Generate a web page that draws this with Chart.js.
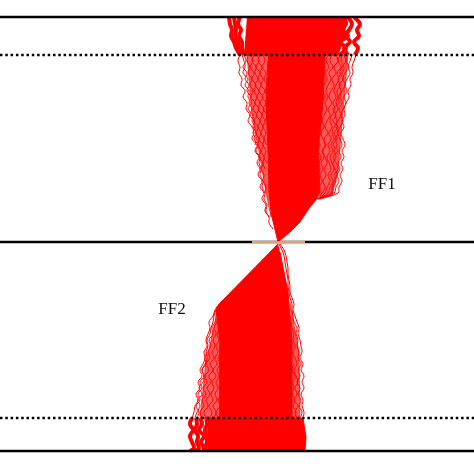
<!DOCTYPE html>
<html lang="en">
<head>
<meta charset="UTF-8">
<title>FF1 / FF2 trajectories</title>
<style>
  html, body { margin: 0; padding: 0; background: #fff; }
  canvas { display: block; }
</style>
<script src="https://cdn.jsdelivr.net/npm/chart.js"></script>
</head>
<body>
<canvas id="fan" width="474" height="474"></canvas>
<script>
// x = sideways offset from the orifice, h = height above the interface line
const xMin = -278, xMax = 196, hMin = -232, hMax = 242;

const solidLevels = [225, 0, -209];
const dottedLevels = [187, -176];
const orificeX = [-26, 27];

// labels
const labelText = ['FF1', 'FF2'];
const labelX = [104, -106];
const labelH = [57, -68];

// solid bodies of each fan, outline as x / h pairs
const ff1CoreX = [-10, -12, -10, -9, -6, 0, 12, 22, 32, 38, 42, 40, 45, 47];
const ff1CoreH = [187, 140, 92, 50, 25, 0, 10, 20, 35, 42, 50, 92, 140, 187];
const ff1TopX = [-31, 69, 66, 60, -34];
const ff1TopH = [225, 225, 205, 187, 187];
const ff2CoreX = [0, -58, -62, -58, -58, 14, 14, 10, 2];
const ff2CoreH = [-2, -61, -68, -100, -176, -176, -100, -50, -10];
const ff2BottomX = [-70, -70, 27, 28, 25];
const ff2BottomH = [-176, -209, -209, -195, -176];

// thinner, pink-red zones where single trajectories overlap
const ff1HazeLeftX = [-11, -31, -26, -18, -12, -7, -9];
const ff1HazeLeftH = [187, 187, 130, 85, 50, 25, 92];
const ff1HazeRightX = [46, 70, 64, 60, 54, 42, 40];
const ff1HazeRightH = [187, 187, 120, 70, 47, 44, 92];
const ff2HazeLeftX = [-57, -78, -72, -64, -58];
const ff2HazeLeftH = [-176, -176, -120, -85, -66];
const ff2HazeRightX = [13, 22, 21, 14, 12];
const ff2HazeRightH = [-176, -176, -110, -72, -60];

// single trajectories above the dotted line (FF1), read at these heights
const ff1Levels = [187, 181, 175, 169, 163, 157, 151, 145, 139, 133, 127, 121, 115, 109, 103, 97, 91, 85, 79, 73, 67, 61, 55, 49, 43, 37, 31, 25, 19, 13];
const ff1Left1 = [-38, -40, -38, -39, -36, -37, -33, -35, -31, -32, -28, -30, -26, -24, -26, -21, -23, -19, -21, -18, -20, -16, -18, -14, -16, -12, -13, -9, -9, -5];
const ff1Left2 = [-34, -32, -35, -31, -33, -29, -31, -27, -29, -26, -28, -24, -25, -22, -24, -20, -22, -18, -19, -17, -18, -15, -16, -13, -14, -11, -12, -9];
const ff1Left3 = [-30, -31, -28, -30, -26, -28, -25, -27, -23, -25, -21, -24, -20, -22, -19, -20, -17, -19, -15, -17, -14, -15, -12, -13];
const ff1Left4 = [-27, -25, -28, -24, -26, -22, -24, -21, -23, -19, -22, -18, -20, -17, -19, -15, -17, -14, -15, -13];
const ff1Left5 = [-24, -26, -22, -23, -20, -23, -19, -21, -18, -20, -16, -18, -15, -17, -14, -15, -12, -14, -11];
const ff1Left6 = [-21, -19, -22, -18, -20, -17, -19, -15, -18, -14, -16, -13, -15, -12, -14, -11];
const ff1Left7 = [-18, -20, -16, -18, -15, -17, -13, -16, -12, -15, -11, -13];
const ff1Left8 = [-15, -13, -16, -12, -14, -11, -13, -10];
const ff1Left9 = [-36, -34, -33, -35, -30, -33, -29, -30, -27, -30, -25, -26, -23, -25, -22, -23];
const ff1Right1 = [78, 76, 74, 75, 72, 73, 70, 71, 68, 66, 67, 64, 66, 63, 65, 67, 64, 66, 63, 65, 62, 64, 61, 60, 42];
const ff1Right2 = [74, 72, 70, 72, 69, 67, 69, 66, 68, 65, 63, 65, 62, 60, 62, 64, 61, 63, 60, 62, 59, 61, 58, 56, 41];
const ff1Right3 = [70, 68, 71, 67, 65, 67, 64, 62, 64, 61, 63, 60, 58, 60, 57, 59, 56, 58, 55, 57, 59, 56, 54, 53, 41];
const ff1Right4 = [66, 68, 64, 62, 65, 61, 63, 60, 58, 60, 57, 59, 56, 54, 56, 53, 55, 52, 54, 56, 53, 55, 52, 50, 40];
const ff1Right5 = [62, 60, 63, 59, 61, 58, 56, 58, 55, 57, 54, 52, 54, 51, 53, 50, 52, 49, 51, 53, 50, 52, 49, 47, 40];
const ff1Right6 = [58, 60, 56, 58, 54, 56, 53, 51, 54, 50, 52, 49, 47, 50, 46, 48, 45, 47, 49, 46, 48, 45, 47, 44, 39];
const ff1Right7 = [54, 52, 55, 51, 53, 50, 48, 50, 47, 49, 46, 44, 46, 43, 45, 47, 44, 46, 43, 45, 42, 44, 41, 40];
const ff1Right8 = [50, 48, 51, 47, 49, 46, 44, 47, 43, 45, 42, 44, 41, 43, 40, 42, 40, 43, 41, 42, 40, 41, 39, 40];
const ff1Right9 = [64, 63, 66, 64, 60, 62, 59, 60, 61, 55, 58, 55, 60, 56, 59, 55, 60, 55, 58, 60, 56, 58, 55, 54, 40];

// thick clumps between the top line and the dotted line
const topLevels = [225, 218, 212, 206, 200, 194, 187];
const topLeft1 = [-49, -48, -46, -47, -44, -42, -38];
const topLeft2 = [-38, -40, -37, -39, -36, -36, -34];
const topLeft3 = [-44, -43, -42, -43, -40, -39, -36];
const topRight1 = [76, 82, 79, 81, 76, 80, 77];
const topRight2 = [70, 74, 71, 68, 72, 66, 70];
const topRight3 = [66, 68, 64, 70, 62, 68, 62];

// FF2 left side, read upward from the dotted line
const ff2LeftLevels = [-176, -170, -164, -158, -152, -146, -140, -134, -128, -122, -116, -110, -104, -98, -92, -86, -80, -74, -68, -62];
const ff2Left1 = [-86, -84, -83, -80, -82, -78, -80, -76, -78, -75, -73, -74, -71, -72, -70, -68, -69, -65, -63, -59];
const ff2Left2 = [-81, -79, -82, -78, -80, -76, -78, -74, -76, -73, -71, -72, -70, -71, -68, -67, -65, -64, -62, -58];
const ff2Left3 = [-76, -78, -74, -76, -72, -75, -71, -73, -69, -72, -68, -70, -67, -69, -65, -66, -63, -62, -61, -57];
const ff2Left4 = [-72, -74, -70, -72, -68, -71, -67, -69, -65, -68, -64, -66, -63, -65, -62, -64, -61, -60, -59, -56];
const ff2Left5 = [-68, -66, -69, -65, -67, -64, -66, -62, -65, -61, -63, -60, -62, -59, -61, -58];
const ff2Left6 = [-64, -62, -65, -61, -63, -60, -62, -59, -61, -58, -60, -57];
const ff2Left7 = [-60, -62, -58, -60, -57, -59, -56];
const ff2Left8 = [-83, -81, -78, -80, -76, -79, -75, -74, -76, -72, -73, -71];

// FF2 right side, from the dotted line up to the orifice
const ff2RightLevels = [-176, -170, -164, -158, -152, -146, -140, -134, -128, -122, -116, -110, -104, -98, -92, -86, -80, -74, -68, -62, -56, -50, -44, -38, -32, -26, -20, -14, -8, -2];
const ff2Right1 = [25, 26, 24, 25, 23, 26, 24, 26, 23, 25, 22, 24, 23, 22, 20, 21, 19, 17, 15, 16, 14, 12, 12, 11, 10, 10, 9, 8, 6, 2];
const ff2Right2 = [22, 24, 21, 23, 20, 22, 19, 22, 20, 23, 20, 21, 19, 20, 18, 19, 16, 15, 14, 14, 12, 11, 10, 10, 9, 8, 7, 6, 4, 1];
const ff2Right3 = [19, 17, 20, 16, 19, 17, 20, 18, 16, 19, 17, 15, 17, 15, 16, 14, 13, 12];
const ff2Right4 = [16, 18, 15, 17, 14, 16, 15, 17, 14, 16];

// thick clumps between the lower dotted line and the bottom line
const bottomLevels = [-176, -182, -188, -194, -200, -206, -209];
const bottomLeft1 = [-86, -88, -85, -88, -86, -84, -88];
const bottomLeft2 = [-78, -76, -79, -74, -77, -74, -75];
const bottomLeft3 = [-72, -71, -73, -72, -71, -73, -72];
const bottomLeft4 = [-82, -81, -83, -80, -81, -79, -82];

const red = '#ff0000';

function pairs(xs, hs) {
  return xs.map((x, i) => ({ x: x, y: hs[i] }));
}

function body(xs, hs, color) {
  return { data: pairs(xs, hs), showLine: true, fill: 'shape', backgroundColor: color || red, borderColor: color || red, borderWidth: 1, pointRadius: 0, order: 3 };
}

function trace(xs, hs, width) {
  return { data: pairs(xs, hs), showLine: true, fill: false, borderColor: red, borderWidth: width, tension: 0.4, pointRadius: 0, order: 2 };
}

function flat(x0, x1, h, color, width, dash) {
  return { data: [{ x: x0, y: h }, { x: x1, y: h }], showLine: true, fill: false, borderColor: color, borderWidth: width, borderDash: dash || [], pointRadius: 0, order: 1 };
}

const haze = 'rgba(255,0,0,0.65)';
const datasets = [
  body(ff1CoreX, ff1CoreH), body(ff1TopX, ff1TopH),
  body(ff2CoreX, ff2CoreH), body(ff2BottomX, ff2BottomH),
  body(ff1HazeLeftX, ff1HazeLeftH, haze), body(ff1HazeRightX, ff1HazeRightH, haze),
  body(ff2HazeLeftX, ff2HazeLeftH, haze), body(ff2HazeRightX, ff2HazeRightH, haze)
];
[ff1Left1, ff1Left2, ff1Left3, ff1Left4, ff1Left5, ff1Left6, ff1Left7, ff1Left8, ff1Left9,
 ff1Right1, ff1Right2, ff1Right3, ff1Right4, ff1Right5, ff1Right6, ff1Right7, ff1Right8, ff1Right9
].forEach(xs => datasets.push(trace(xs, ff1Levels, 1)));
[ff2Left1, ff2Left2, ff2Left3, ff2Left4, ff2Left5, ff2Left6, ff2Left7, ff2Left8
].forEach(xs => datasets.push(trace(xs, ff2LeftLevels, 1)));
[ff2Right1, ff2Right2, ff2Right3, ff2Right4
].forEach(xs => datasets.push(trace(xs, ff2RightLevels, 1)));
[topLeft1, topLeft2, topLeft3, topRight1, topRight2, topRight3
].forEach(xs => datasets.push(trace(xs, topLevels, 4)));
[bottomLeft1, bottomLeft2, bottomLeft3, bottomLeft4
].forEach(xs => datasets.push(trace(xs, bottomLevels, 4)));

solidLevels.forEach(h => datasets.push(flat(xMin, xMax, h, '#000', 2.5)));
dottedLevels.forEach(h => datasets.push(flat(xMin, xMax, h, '#000', 2.5, [2.5, 2.8])));
datasets.push(Object.assign(flat(orificeX[0], orificeX[1], 0, '#e0a070', 2), { order: 0 }));

const fanLabels = {
  id: 'fanLabels',
  afterDatasetsDraw(chart) {
    const c = chart.ctx;
    c.save();
    c.fillStyle = '#111';
    c.font = '17px "Liberation Serif"';
    c.textAlign = 'center';
    c.textBaseline = 'middle';
    labelText.forEach((t, i) => {
      c.fillText(t, chart.scales.x.getPixelForValue(labelX[i]), chart.scales.y.getPixelForValue(labelH[i]));
    });
    c.restore();
  }
};

new Chart(document.getElementById('fan'), {
  type: 'scatter',
  data: { datasets: datasets },
  plugins: [fanLabels],
  options: {
    responsive: false,
    animation: false,
    layout: { padding: 0 },
    plugins: { legend: { display: false }, tooltip: { enabled: false } },
    scales: {
      x: { type: 'linear', min: xMin, max: xMax, display: false },
      y: { type: 'linear', min: hMin, max: hMax, display: false }
    }
  }
});
</script>
</body>
</html>
